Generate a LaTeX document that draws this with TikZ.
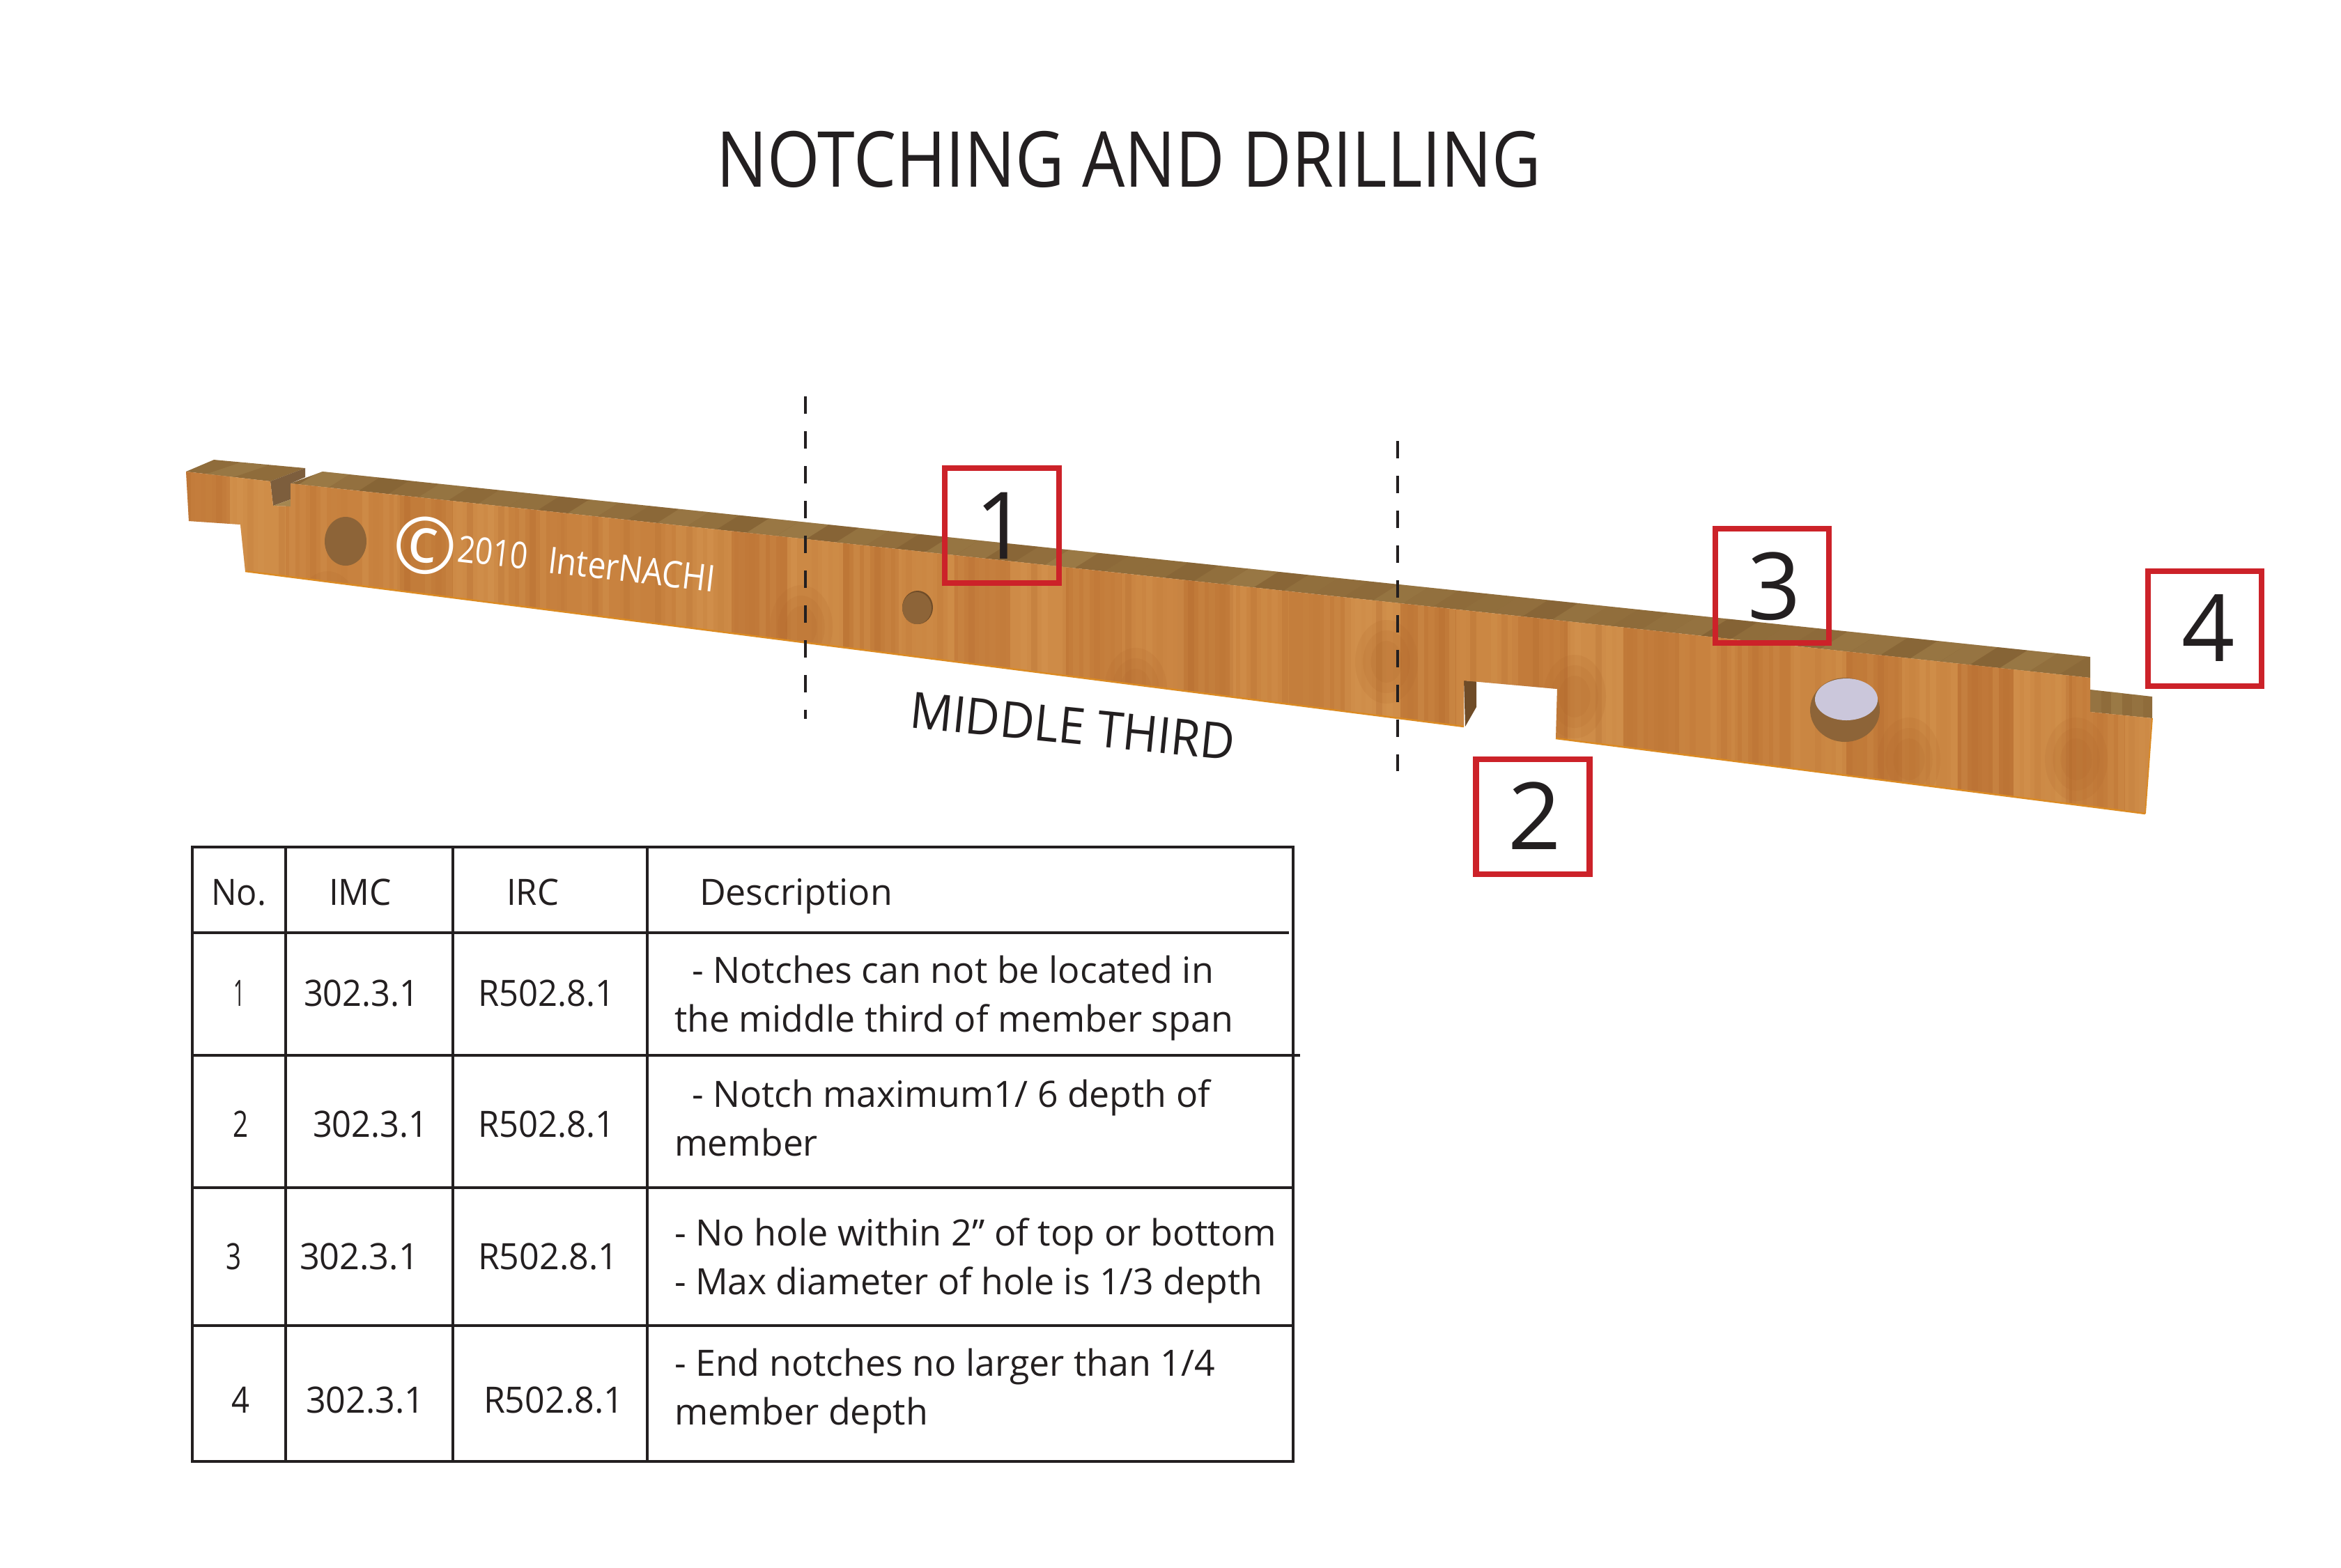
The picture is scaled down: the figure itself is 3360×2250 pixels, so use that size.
\documentclass[tikz,border=0pt]{standalone}
\usepackage{graphicx}
\usepackage{fontspec}
\setmainfont{Open Sans}
\usetikzlibrary{shapes.geometric}
\definecolor{ink}{HTML}{231F20}
\definecolor{boxred}{HTML}{CC2229}
\definecolor{wood}{HTML}{C8823F}
\definecolor{woodlight}{HTML}{DCA05A}
\definecolor{wooddark}{HTML}{B0662B}
\definecolor{woodedge}{HTML}{DB8A22}
\definecolor{topwood}{HTML}{8F6C3B}
\definecolor{toplight}{HTML}{A58650}
\definecolor{topdark}{HTML}{7C5A30}
\definecolor{holebrown}{HTML}{8D6438}
\definecolor{holeedge}{HTML}{6F4C28}
\definecolor{sky}{HTML}{CBC7DB}
\tikzset{
  txt/.style={inner sep=0pt,outer sep=0pt,anchor=base west,text=ink},
  cell/.style={txt,font=\fontsize{14.8pt}{17pt}\selectfont},
  rule/.style={draw=ink,line width=1.15pt,line cap=rect},
  badge/.style={draw=boxred,line width=2.35pt},
  cut/.style={draw=ink,line width=1.1pt,dash pattern=on 7.11pt off 7.11pt},
  digit/.style={txt,anchor=base,font=\fontsize{38pt}{40pt}\selectfont},
}
\newcommand\lbl[6][]{\node[#2,#1] (#3) at (#4) {\resizebox{\dimexpr 0.01cm*#5\relax}{\height}{#6}};}
\begin{document}
\begin{tikzpicture}[x=0.01cm,y=-0.01cm]
\useasboundingbox (0,0) rectangle (3360,2250);
% ---------- title
\lbl[font=\fontsize{31.5pt}{34pt}\selectfont]{txt}{title}{1028,268}{1184}{NOTCHING AND DRILLING}
% ---------- beam top faces
\begin{scope}
\clip (463,677) -- (3000,943) -- (3000,973) -- (417,694) -- cycle;
\fill[topwood] (380,640) rectangle (3020,1000);
\pgfmathsetseed{11}
\foreach \i in {0,...,62}{
  \pgfmathsetmacro\xa{380+\i*43}
  \pgfmathsetmacro\ya{640+(\xa-380)*0.105}
  \pgfmathsetmacro\op{rnd*0.55}
  \pgfmathtruncatemacro\pick{mod(\i,3)}
  \ifnum\pick=1 \def\cc{toplight}\else\ifnum\pick=0 \def\cc{topdark}\else\def\cc{toplight}\fi\fi
  \fill[\cc,opacity=\op] (\xa+55,\ya+20) -- (\xa+98,\ya+24) -- (\xa+38,\ya+62) -- (\xa-5,\ya+58) -- cycle;
}
\end{scope}
\fill[topwood] (307,660) -- (438,672) -- (388,691) -- (267,677) -- cycle;
\fill[toplight,opacity=.45] (345,664) -- (385,668) -- (335,685) -- (295,681) -- cycle;
\fill[holeedge,opacity=.9] (438,672) -- (438,685) -- (417,694) -- (417,717) -- (392,726) -- (388,691) -- cycle;
\fill[toplight] (417,717) -- (417,727) -- (392,726) -- cycle;
% end notch seat
\begin{scope}
\clip (3000,990) -- (3089,1000) -- (3089,1031) -- (3000,1022) -- cycle;
\fill[topwood] (2990,980) rectangle (3100,1040);
\foreach \xa/\op in {3000/.3,3030/.5,3060/.25}{
  \fill[toplight,opacity=\op] (\xa,980) rectangle (\xa+16,1040);
}
\end{scope}
% inner wall of the mid notch
\fill[holeedge] (2101,977) -- (2119,978) -- (2119,1015) -- (2103,1043) -- cycle;
% ---------- beam front face
\begin{scope}
\clip (267,677) -- (388,691) -- (392,726) -- (417,727) -- (417,694) -- (3000,973) -- (3000,1022)
  -- (3089,1031) -- (3079,1168) -- (2233,1060) -- (2235,989) -- (2101,977) -- (2101,1043)
  -- (352,820) -- (345,753) -- (271,748) -- cycle;
\fill[wood] (250,650) rectangle (3100,1200);
\pgfmathsetseed{5}
\foreach \i in {0,...,36}{
  \pgfmathsetmacro\xa{250+\i*80}
  \pgfmathsetmacro\op{rnd*0.4}
  \pgfmathtruncatemacro\pick{mod(\i,2)}
  \ifnum\pick=1 \def\cc{woodlight}\else\def\cc{wooddark}\fi
  \fill[\cc,opacity=\op] (\xa,650) rectangle (\xa+80,1200);
}
\foreach \i in {0,...,190}{
  \pgfmathsetmacro\xa{250+\i*15}
  \pgfmathsetmacro\op{rnd*0.28}
  \pgfmathtruncatemacro\pick{mod(\i*7,3)}
  \ifnum\pick=1 \def\cc{wooddark}\else\def\cc{woodlight}\fi
  \fill[\cc,opacity=\op] (\xa,650) rectangle (\xa+9,1200);
}
\foreach \cx/\cy in {1150/900,1990/950,1630/990,2740/1090,2260/1000,470/880,2980/1090}{
  \foreach \r in {1,0.75,0.5}{
    \fill[wooddark,opacity=.14] (\cx,\cy) ellipse ({45*\r} and {60*\r});
  }
}
\end{scope}
\draw[woodedge,line width=.7pt] (352,820) -- (2101,1043);
\draw[woodedge,line width=.7pt] (2233,1060) -- (3079,1168);
\draw[woodedge,line width=.5pt] (3089,1031) -- (3079,1168);
% ---------- holes
\fill[holebrown] (496,777) ellipse (30 and 35);
\fill[holeedge] (1317,872) ellipse (22 and 24);
\fill[holebrown] (1316,873) ellipse (21 and 23);
\begin{scope}
  \fill[holebrown] (2648,1019) ellipse (50 and 46);
  \fill[sky] (2650,1004) ellipse (45 and 30);
\end{scope}
% ---------- watermark
\node[txt,text=white,anchor=center,rotate=-6,font=\fontsize{32pt}{34pt}\selectfont] (cmark) at (610,783) {\scalebox{.98}[1.0]{©}};
\lbl[rotate=-6.5,text=white,font=\fontsize{15pt}{17pt}\selectfont]{txt}{year}{655,806}{101}{2010}
\lbl[rotate=-6.7,text=white,font=\fontsize{15pt}{17pt}\selectfont]{txt}{owner}{785,822}{241}{InterNACHI}
% ---------- cut lines
\coordinate (cutAtop) at (1156,569);
\coordinate (cutAbot) at (1156,1032);
\coordinate (cutBtop) at (2006,633);
\coordinate (cutBbot) at (2006,1107);
\draw[cut] (cutAtop) -- (cutAbot);
\draw[cut] (cutBtop) -- (cutBbot);
\lbl[rotate=-5.8,font=\fontsize{20.5pt}{22pt}\selectfont]{txt}{middle}{1304,1044}{468}{MIDDLE THIRD}
% ---------- badges
\node[badge,minimum width=1.64cm,minimum height=1.65cm,inner sep=0pt] (b1) at (1438,754.5) {};
\node[badge,minimum width=1.63cm,minimum height=1.65cm,inner sep=0pt] (b2) at (2200,1172.5) {};
\node[badge,minimum width=1.63cm,minimum height=1.64cm,inner sep=0pt] (b3) at (2543.5,841) {};
\node[badge,minimum width=1.63cm,minimum height=1.65cm,inner sep=0pt] (b4) at (3164.5,902.5) {};
\node[digit] (n1) at (1438,802) {1};
\node[digit] (n2) at (2203,1219) {2};
\node[digit] (n3) at (2547,889) {3};
\node[digit] (n4) at (3170,949) {4};
% ---------- table rules
\coordinate (tl) at (276,1216); \coordinate (tr) at (1856,1216);
\coordinate (bl) at (276,2098); \coordinate (br) at (1856,2098);
\draw[rule] (tl) -- (tr) -- (br) -- (bl) -- cycle;
\foreach \n/\x in {va/410,vb/650,vc/929}{
  \coordinate (\n t) at (\x,1216); \coordinate (\n b) at (\x,2098);
  \draw[rule] (\n t) -- (\n b);
}
\coordinate (h1a) at (276,1339); \coordinate (h1b) at (1848,1339);
\coordinate (h2a) at (276,1515); \coordinate (h2b) at (1864,1515);
\coordinate (h3a) at (276,1705); \coordinate (h3b) at (1856,1705);
\coordinate (h4a) at (276,1903); \coordinate (h4b) at (1856,1903);
\draw[rule] (h1a) -- (h1b);
\draw[rule] (h2a) -- (h2b);
\draw[rule] (h3a) -- (h3b);
\draw[rule] (h4a) -- (h4b);
% ---------- table text
\lbl{cell}{hNo}{303,1299}{79}{No.}
\lbl{cell}{hIMC}{472,1299}{90}{IMC}
\lbl{cell}{hIRC}{727,1299}{75}{IRC}
\lbl{cell}{hDesc}{1004,1299}{277}{Description}
\lbl{cell}{r1n}{335,1444}{16}{1}
\lbl{cell}{r1a}{436,1444}{165}{302.3.1}
\lbl{cell}{r1b}{686,1444}{196}{R502.8.1}
\lbl{cell}{r1c}{993,1411}{749}{- Notches can not be located in}
\lbl{cell}{r1d}{968,1481}{802}{the middle third of member span}
\lbl{cell}{r2n}{334,1632}{22}{2}
\lbl{cell}{r2a}{449,1632}{165}{302.3.1}
\lbl{cell}{r2b}{686,1632}{196}{R502.8.1}
\lbl{cell}{r2c}{993,1589}{744}{- Notch maximum1/ 6 depth of}
\lbl{cell}{r2d}{968,1659}{206}{member}
\lbl{cell}{r3n}{324,1822}{22}{3}
\lbl{cell}{r3a}{430,1822}{171}{302.3.1}
\lbl{cell}{r3b}{686,1822}{201}{R502.8.1}
\lbl{cell}{r3c}{968,1788}{864}{- No hole within 2" of top or bottom}
\lbl{cell}{r3d}{968,1858}{844}{- Max diameter of hole is 1/3 depth}
\lbl{cell}{r4n}{332,2028}{26}{4}
\lbl{cell}{r4a}{439,2028}{170}{302.3.1}
\lbl{cell}{r4b}{694,2028}{201}{R502.8.1}
\lbl{cell}{r4c}{968,1975}{776}{- End notches no larger than 1/4}
\lbl{cell}{r4d}{968,2045}{364}{member depth}
\end{tikzpicture}
\end{document}
